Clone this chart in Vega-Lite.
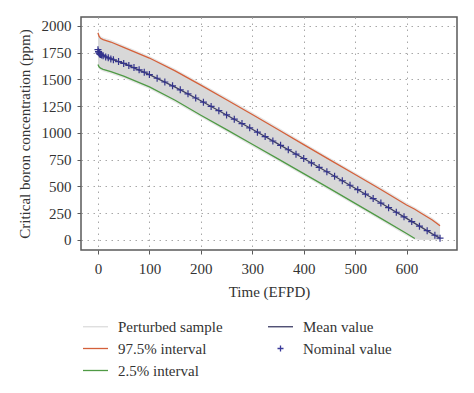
{
  "$schema": "https://vega.github.io/schema/vega-lite/v6.json",
  "width": 376,
  "height": 233,
  "autosize": {"type": "none"},
  "padding": {"left": 81, "top": 17, "right": 17, "bottom": 143},
  "config": {
    "font": "Liberation Serif",
    "style": {
      "guide-label": {"font": "Liberation Serif", "fontSize": 15, "fill": "#333333"},
      "guide-title": {"font": "Liberation Serif", "fontSize": 15, "fill": "#333333", "fontWeight": "normal"}
    },
    "view": {"stroke": "#5a5a5a", "strokeWidth": 1.5},
    "axis": {
      "labelFont": "Liberation Serif",
      "labelFontSize": 15,
      "labelColor": "#333333",
      "labelOverlap": false,
      "titleFont": "Liberation Serif",
      "titleFontSize": 15,
      "titleFontWeight": "normal",
      "titleColor": "#333333",
      "tickColor": "#5a5a5a",
      "tickSize": 4,
      "tickWidth": 1,
      "domain": false,
      "grid": true,
      "gridColor": "#a8a8a8",
      "gridDash": [1.5, 4.5],
      "gridWidth": 1
    },
    "legend": {
      "labelFont": "Liberation Serif",
      "labelFontSize": 15,
      "labelColor": "#333333",
      "padding": 0
    }
  },
  "datasets": {
    "curves": [
      {"t": 0, "mean": 1778, "p975": 1935, "p025": 1640, "hi": 1975, "lo": 1620, "lo2": 1640},
      {"t": 2, "mean": 1748, "p975": 1905, "p025": 1618, "hi": 1930, "lo": 1598, "lo2": 1618},
      {"t": 5, "mean": 1732, "p975": 1885, "p025": 1605, "hi": 1907, "lo": 1585, "lo2": 1605},
      {"t": 10, "mean": 1722, "p975": 1872, "p025": 1595, "hi": 1893, "lo": 1575, "lo2": 1595},
      {"t": 25, "mean": 1692, "p975": 1850, "p025": 1572, "hi": 1870, "lo": 1552, "lo2": 1572},
      {"t": 50, "mean": 1650, "p975": 1800, "p025": 1530, "hi": 1820, "lo": 1510, "lo2": 1530},
      {"t": 100, "mean": 1545, "p975": 1700, "p025": 1430, "hi": 1720, "lo": 1410, "lo2": 1430},
      {"t": 150, "mean": 1428, "p975": 1580, "p025": 1305, "hi": 1600, "lo": 1285, "lo2": 1305},
      {"t": 200, "mean": 1300, "p975": 1446, "p025": 1165, "hi": 1466, "lo": 1145, "lo2": 1165},
      {"t": 250, "mean": 1168, "p975": 1310, "p025": 1030, "hi": 1330, "lo": 1010, "lo2": 1030},
      {"t": 300, "mean": 1033, "p975": 1172, "p025": 893, "hi": 1192, "lo": 873, "lo2": 893},
      {"t": 350, "mean": 897, "p975": 1032, "p025": 757, "hi": 1052, "lo": 737, "lo2": 757},
      {"t": 400, "mean": 760, "p975": 890, "p025": 618, "hi": 910, "lo": 598, "lo2": 618},
      {"t": 450, "mean": 622, "p975": 750, "p025": 480, "hi": 770, "lo": 460, "lo2": 480},
      {"t": 500, "mean": 482, "p975": 610, "p025": 340, "hi": 630, "lo": 320, "lo2": 340},
      {"t": 550, "mean": 343, "p975": 470, "p025": 200, "hi": 490, "lo": 180, "lo2": 200},
      {"t": 600, "mean": 200, "p975": 325, "p025": 58, "hi": 345, "lo": 38, "lo2": 58},
      {"t": 616, "mean": 153, "p975": 285, "p025": 12, "hi": 305, "lo": 0, "lo2": 12},
      {"t": 626, "mean": 125, "p975": 255, "p025": null, "hi": 275, "lo": 0, "lo2": 0},
      {"t": 650, "mean": 55, "p975": 185, "p025": null, "hi": 205, "lo": 0, "lo2": 0},
      {"t": 665, "mean": 15, "p975": 130, "p025": null, "hi": 150, "lo": 0, "lo2": 0}
    ],
    "nominal": [
      {"t": 0, "v": 1778}, {"t": 1, "v": 1760}, {"t": 2, "v": 1748}, {"t": 3, "v": 1740},
      {"t": 4, "v": 1736}, {"t": 5, "v": 1732}, {"t": 7, "v": 1728}, {"t": 10, "v": 1722},
      {"t": 15, "v": 1710}, {"t": 20, "v": 1702}, {"t": 25, "v": 1692}, {"t": 30, "v": 1684},
      {"t": 40, "v": 1667}, {"t": 50, "v": 1650}, {"t": 60, "v": 1631}, {"t": 70, "v": 1611},
      {"t": 80, "v": 1590}, {"t": 90, "v": 1568}, {"t": 100, "v": 1545}, {"t": 115, "v": 1511},
      {"t": 130, "v": 1476}, {"t": 145, "v": 1440}, {"t": 160, "v": 1403}, {"t": 175, "v": 1365},
      {"t": 190, "v": 1326}, {"t": 205, "v": 1287}, {"t": 220, "v": 1247}, {"t": 235, "v": 1208},
      {"t": 250, "v": 1168}, {"t": 265, "v": 1128}, {"t": 280, "v": 1087}, {"t": 295, "v": 1047},
      {"t": 310, "v": 1006}, {"t": 325, "v": 965}, {"t": 340, "v": 924}, {"t": 355, "v": 883},
      {"t": 370, "v": 842}, {"t": 385, "v": 801}, {"t": 400, "v": 760}, {"t": 415, "v": 719},
      {"t": 430, "v": 677}, {"t": 445, "v": 636}, {"t": 460, "v": 594}, {"t": 475, "v": 552},
      {"t": 490, "v": 510}, {"t": 505, "v": 468}, {"t": 520, "v": 427}, {"t": 535, "v": 385},
      {"t": 550, "v": 343}, {"t": 565, "v": 300}, {"t": 580, "v": 257}, {"t": 595, "v": 214},
      {"t": 610, "v": 170}, {"t": 625, "v": 127}, {"t": 640, "v": 85}, {"t": 655, "v": 42},
      {"t": 665, "v": 15}
    ]
  },
  "layer": [
    {
      "data": {"name": "curves"},
      "mark": {"type": "area", "color": "#e6e6e6", "opacity": 1},
      "encoding": {
        "x": {"field": "t", "type": "quantitative", "scale": {"domain": [-33, 698], "nice": false, "zero": false},
              "axis": {"values": [0, 100, 200, 300, 400, 500, 600], "format": "d", "title": "Time (EFPD)", "labelPadding": 7, "titlePadding": 8}},
        "y": {"field": "hi", "type": "quantitative", "scale": {"domain": [-96, 2084], "nice": false, "zero": false},
              "axis": {"values": [0, 250, 500, 750, 1000, 1250, 1500, 1750, 2000], "format": "d", "title": "Critical boron concentration (ppm)", "labelPadding": 6, "titlePadding": 9}},
        "y2": {"field": "lo"}
      }
    },
    {
      "data": {"name": "curves"},
      "mark": {"type": "area", "color": "#d8d8d8", "opacity": 1},
      "encoding": {
        "x": {"field": "t", "type": "quantitative",
              "axis": {"values": [0, 100, 200, 300, 400, 500, 600], "format": "d", "title": "Time (EFPD)", "labelPadding": 7, "titlePadding": 8}},
        "y": {"field": "p975", "type": "quantitative",
              "axis": {"values": [0, 250, 500, 750, 1000, 1250, 1500, 1750, 2000], "format": "d", "title": "Critical boron concentration (ppm)", "labelPadding": 6, "titlePadding": 9}},
        "y2": {"field": "lo2"}
      }
    },
    {
      "data": {"name": "curves"},
      "mark": {"type": "line", "strokeWidth": 1.3},
      "encoding": {
        "x": {"field": "t", "type": "quantitative",
              "axis": {"values": [0, 100, 200, 300, 400, 500, 600], "format": "d", "title": "Time (EFPD)", "labelPadding": 7, "titlePadding": 8}},
        "y": {"field": "p975", "type": "quantitative",
              "axis": {"values": [0, 250, 500, 750, 1000, 1250, 1500, 1750, 2000], "format": "d", "title": "Critical boron concentration (ppm)", "labelPadding": 6, "titlePadding": 9}},
        "color": {
          "datum": "97.5% interval",
          "type": "nominal",
          "scale": {
            "domain": ["Perturbed sample", "97.5% interval", "2.5% interval", "Mean value", "Nominal value"],
            "range": ["#dcdcdc", "#d4603a", "#4f9a45", "#3e3e66", "#3a3a9a"]
          },
          "legend": {
            "title": null,
            "orient": "none",
            "legendX": 1,
            "legendY": 296,
            "direction": "vertical",
            "columns": 2,
            "columnPadding": 42,
            "rowPadding": -2,
            "symbolType": "stroke",
            "symbolSize": 625,
            "symbolStrokeWidth": 1.3,
            "labelOffset": 9,
            "labelFont": "Liberation Serif",
            "labelFontSize": 15,
            "encode": {
              "symbols": {
                "update": {
                  "shape": {"signal": "datum.value === 'Nominal value' ? 'M-0.24,0H0.24M0,-0.24V0.24' : 'stroke'"},
                  "stroke": {"signal": "scale('color', datum.value)"},
                  "fill": {"value": "transparent"},
                  "strokeWidth": {"value": 1.3}
                }
              }
            }
          }
        }
      }
    },
    {
      "data": {"name": "curves"},
      "mark": {"type": "line", "strokeWidth": 1.3},
      "encoding": {
        "x": {"field": "t", "type": "quantitative",
              "axis": {"values": [0, 100, 200, 300, 400, 500, 600], "format": "d", "title": "Time (EFPD)", "labelPadding": 7, "titlePadding": 8}},
        "y": {"field": "p025", "type": "quantitative",
              "axis": {"values": [0, 250, 500, 750, 1000, 1250, 1500, 1750, 2000], "format": "d", "title": "Critical boron concentration (ppm)", "labelPadding": 6, "titlePadding": 9}},
        "color": {"datum": "2.5% interval", "type": "nominal"}
      }
    },
    {
      "data": {"name": "curves"},
      "mark": {"type": "line", "strokeWidth": 1.2},
      "encoding": {
        "x": {"field": "t", "type": "quantitative",
              "axis": {"values": [0, 100, 200, 300, 400, 500, 600], "format": "d", "title": "Time (EFPD)", "labelPadding": 7, "titlePadding": 8}},
        "y": {"field": "mean", "type": "quantitative",
              "axis": {"values": [0, 250, 500, 750, 1000, 1250, 1500, 1750, 2000], "format": "d", "title": "Critical boron concentration (ppm)", "labelPadding": 6, "titlePadding": 9}},
        "color": {"datum": "Mean value", "type": "nominal"}
      }
    },
    {
      "data": {"name": "nominal"},
      "mark": {"type": "point", "shape": "M-1,0H1M0,-1V1", "size": 49, "filled": false, "stroke": "#34348c", "strokeWidth": 1.2, "opacity": 1},
      "encoding": {
        "x": {"field": "t", "type": "quantitative",
              "axis": {"values": [0, 100, 200, 300, 400, 500, 600], "format": "d", "title": "Time (EFPD)", "labelPadding": 7, "titlePadding": 8}},
        "y": {"field": "v", "type": "quantitative",
              "axis": {"values": [0, 250, 500, 750, 1000, 1250, 1500, 1750, 2000], "format": "d", "title": "Critical boron concentration (ppm)", "labelPadding": 6, "titlePadding": 9}}
      }
    }
  ]
}
